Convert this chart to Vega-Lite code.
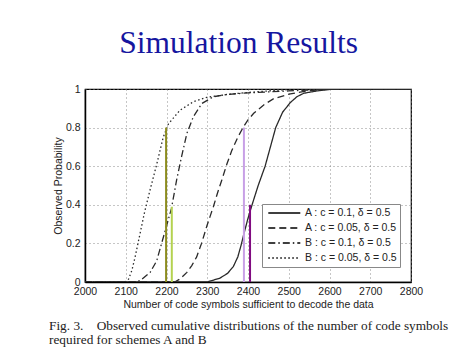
{
  "$schema": "https://vega.github.io/schema/vega-lite/v6.json",
  "background": "white",
  "padding": {"left": 48, "top": 27, "right": 5, "bottom": 5},
  "title": {
    "text": "Simulation Results",
    "font": "Liberation Serif",
    "fontSize": 31.5,
    "fontWeight": "normal",
    "color": "#1616a0",
    "anchor": "middle",
    "dx": -10,
    "offset": 24
  },
  "config": {
    "view": {"stroke": "black", "strokeWidth": 1.2},
    "axis": {
      "domainColor": "black",
      "domainWidth": 1.5,
      "gridColor": "#808080",
      "gridDash": [1, 3],
      "gridWidth": 0.9,
      "ticks": false,
      "labelOverlap": false,
      "labelFlush": false,
      "labelFont": "Liberation Sans",
      "labelFontSize": 11,
      "labelColor": "#222222",
      "titleFont": "Liberation Sans",
      "titleFontSize": 10.5,
      "titleFontWeight": "normal",
      "titleColor": "#222222"
    }
  },
  "vconcat": [
    {
      "width": 326,
      "height": 193,
      "title": {
        "text": ["Fig. 3.\u00a0\u00a0\u00a0 Observed cumulative distributions of the number of code symbols", "required for schemes A and B"],
        "orient": "bottom",
        "anchor": "start",
        "frame": "group",
        "dx": -36,
        "offset": 9,
        "font": "Liberation Serif",
        "fontSize": 13.3,
        "fontWeight": "normal",
        "color": "#222222",
        "lineHeight": 14
      },
      "layer": [
        {
          "data": {
            "values": [
              {"series": "A : c = 0.1, δ = 0.5", "x": 2000, "y": 0},
              {"series": "A : c = 0.1, δ = 0.5", "x": 2300, "y": 0},
              {"series": "A : c = 0.1, δ = 0.5", "x": 2331, "y": 0.02},
              {"series": "A : c = 0.1, δ = 0.5", "x": 2350, "y": 0.045},
              {"series": "A : c = 0.1, δ = 0.5", "x": 2364, "y": 0.08},
              {"series": "A : c = 0.1, δ = 0.5", "x": 2375, "y": 0.13},
              {"series": "A : c = 0.1, δ = 0.5", "x": 2383, "y": 0.19},
              {"series": "A : c = 0.1, δ = 0.5", "x": 2390, "y": 0.25},
              {"series": "A : c = 0.1, δ = 0.5", "x": 2400, "y": 0.33},
              {"series": "A : c = 0.1, δ = 0.5", "x": 2410, "y": 0.4},
              {"series": "A : c = 0.1, δ = 0.5", "x": 2425, "y": 0.5},
              {"series": "A : c = 0.1, δ = 0.5", "x": 2442, "y": 0.6},
              {"series": "A : c = 0.1, δ = 0.5", "x": 2455, "y": 0.7},
              {"series": "A : c = 0.1, δ = 0.5", "x": 2468, "y": 0.8},
              {"series": "A : c = 0.1, δ = 0.5", "x": 2485, "y": 0.88},
              {"series": "A : c = 0.1, δ = 0.5", "x": 2504, "y": 0.93},
              {"series": "A : c = 0.1, δ = 0.5", "x": 2520, "y": 0.96},
              {"series": "A : c = 0.1, δ = 0.5", "x": 2537, "y": 0.978},
              {"series": "A : c = 0.1, δ = 0.5", "x": 2569, "y": 0.99},
              {"series": "A : c = 0.1, δ = 0.5", "x": 2610, "y": 1},
              {"series": "A : c = 0.1, δ = 0.5", "x": 2800, "y": 1},
              {"series": "A : c = 0.05, δ = 0.5", "x": 2000, "y": 0},
              {"series": "A : c = 0.05, δ = 0.5", "x": 2220, "y": 0},
              {"series": "A : c = 0.05, δ = 0.5", "x": 2233, "y": 0.015},
              {"series": "A : c = 0.05, δ = 0.5", "x": 2250, "y": 0.05},
              {"series": "A : c = 0.05, δ = 0.5", "x": 2262, "y": 0.085},
              {"series": "A : c = 0.05, δ = 0.5", "x": 2274, "y": 0.13},
              {"series": "A : c = 0.05, δ = 0.5", "x": 2286, "y": 0.2},
              {"series": "A : c = 0.05, δ = 0.5", "x": 2299, "y": 0.29},
              {"series": "A : c = 0.05, δ = 0.5", "x": 2307, "y": 0.34},
              {"series": "A : c = 0.05, δ = 0.5", "x": 2315, "y": 0.39},
              {"series": "A : c = 0.05, δ = 0.5", "x": 2325, "y": 0.46},
              {"series": "A : c = 0.05, δ = 0.5", "x": 2336, "y": 0.53},
              {"series": "A : c = 0.05, δ = 0.5", "x": 2348, "y": 0.61},
              {"series": "A : c = 0.05, δ = 0.5", "x": 2360, "y": 0.68},
              {"series": "A : c = 0.05, δ = 0.5", "x": 2375, "y": 0.75},
              {"series": "A : c = 0.05, δ = 0.5", "x": 2389, "y": 0.805},
              {"series": "A : c = 0.05, δ = 0.5", "x": 2400, "y": 0.84},
              {"series": "A : c = 0.05, δ = 0.5", "x": 2414, "y": 0.874},
              {"series": "A : c = 0.05, δ = 0.5", "x": 2440, "y": 0.92},
              {"series": "A : c = 0.05, δ = 0.5", "x": 2463, "y": 0.95},
              {"series": "A : c = 0.05, δ = 0.5", "x": 2504, "y": 0.975},
              {"series": "A : c = 0.05, δ = 0.5", "x": 2544, "y": 0.99},
              {"series": "A : c = 0.05, δ = 0.5", "x": 2600, "y": 1},
              {"series": "A : c = 0.05, δ = 0.5", "x": 2800, "y": 1},
              {"series": "B : c = 0.1, δ = 0.5", "x": 2000, "y": 0},
              {"series": "B : c = 0.1, δ = 0.5", "x": 2128, "y": 0},
              {"series": "B : c = 0.1, δ = 0.5", "x": 2140, "y": 0.015},
              {"series": "B : c = 0.1, δ = 0.5", "x": 2160, "y": 0.05},
              {"series": "B : c = 0.1, δ = 0.5", "x": 2176, "y": 0.11},
              {"series": "B : c = 0.1, δ = 0.5", "x": 2188, "y": 0.2},
              {"series": "B : c = 0.1, δ = 0.5", "x": 2200, "y": 0.29},
              {"series": "B : c = 0.1, δ = 0.5", "x": 2212, "y": 0.38},
              {"series": "B : c = 0.1, δ = 0.5", "x": 2225, "y": 0.53},
              {"series": "B : c = 0.1, δ = 0.5", "x": 2237, "y": 0.65},
              {"series": "B : c = 0.1, δ = 0.5", "x": 2250, "y": 0.77},
              {"series": "B : c = 0.1, δ = 0.5", "x": 2266, "y": 0.857},
              {"series": "B : c = 0.1, δ = 0.5", "x": 2287, "y": 0.925},
              {"series": "B : c = 0.1, δ = 0.5", "x": 2315, "y": 0.96},
              {"series": "B : c = 0.1, δ = 0.5", "x": 2350, "y": 0.972},
              {"series": "B : c = 0.1, δ = 0.5", "x": 2400, "y": 0.98},
              {"series": "B : c = 0.1, δ = 0.5", "x": 2450, "y": 0.985},
              {"series": "B : c = 0.1, δ = 0.5", "x": 2500, "y": 0.99},
              {"series": "B : c = 0.1, δ = 0.5", "x": 2560, "y": 0.996},
              {"series": "B : c = 0.1, δ = 0.5", "x": 2620, "y": 1},
              {"series": "B : c = 0.1, δ = 0.5", "x": 2800, "y": 1},
              {"series": "B : c = 0.05, δ = 0.5", "x": 2000, "y": 0},
              {"series": "B : c = 0.05, δ = 0.5", "x": 2098, "y": 0},
              {"series": "B : c = 0.05, δ = 0.5", "x": 2106, "y": 0.01},
              {"series": "B : c = 0.05, δ = 0.5", "x": 2115, "y": 0.06},
              {"series": "B : c = 0.05, δ = 0.5", "x": 2123, "y": 0.13},
              {"series": "B : c = 0.05, δ = 0.5", "x": 2135, "y": 0.25},
              {"series": "B : c = 0.05, δ = 0.5", "x": 2146, "y": 0.36},
              {"series": "B : c = 0.05, δ = 0.5", "x": 2160, "y": 0.48},
              {"series": "B : c = 0.05, δ = 0.5", "x": 2176, "y": 0.61},
              {"series": "B : c = 0.05, δ = 0.5", "x": 2192, "y": 0.75},
              {"series": "B : c = 0.05, δ = 0.5", "x": 2205, "y": 0.82},
              {"series": "B : c = 0.05, δ = 0.5", "x": 2233, "y": 0.89},
              {"series": "B : c = 0.05, δ = 0.5", "x": 2266, "y": 0.934},
              {"series": "B : c = 0.05, δ = 0.5", "x": 2299, "y": 0.957},
              {"series": "B : c = 0.05, δ = 0.5", "x": 2350, "y": 0.972},
              {"series": "B : c = 0.05, δ = 0.5", "x": 2400, "y": 0.982},
              {"series": "B : c = 0.05, δ = 0.5", "x": 2450, "y": 0.99},
              {"series": "B : c = 0.05, δ = 0.5", "x": 2520, "y": 1},
              {"series": "B : c = 0.05, δ = 0.5", "x": 2800, "y": 1}
            ]
          },
          "mark": {"type": "line", "color": "#2a2a2a", "strokeWidth": 1.3, "clip": true},
          "encoding": {
            "x": {
              "field": "x",
              "type": "quantitative",
              "scale": {"domain": [2000, 2800], "nice": false, "zero": false},
              "axis": {
                "values": [2000, 2100, 2200, 2300, 2400, 2500, 2600, 2700, 2800],
                "tickCount": 20,
                "labelOverlap": false,
                "format": "d",
                "labelFontSize": 10.5,
                "labelPadding": 4,
                "title": "Number of code symbols sufficient to decode the data",
                "titlePadding": 3,
                "grid": true
              }
            },
            "y": {
              "field": "y",
              "type": "quantitative",
              "scale": {"domain": [0, 1], "nice": false},
              "axis": {
                "values": [0, 0.2, 0.4, 0.6, 0.8, 1],
                "tickCount": 20,
                "labelOverlap": false,
                "format": "~g",
                "labelFontSize": 10.5,
                "labelPadding": 5,
                "title": "Observed Probability",
                "titlePadding": 2,
                "grid": true
              }
            },
            "strokeDash": {
              "field": "series",
              "type": "nominal",
              "scale": {
                "domain": ["A : c = 0.1, δ = 0.5", "A : c = 0.05, δ = 0.5", "B : c = 0.1, δ = 0.5", "B : c = 0.05, δ = 0.5"],
                "range": [[1, 0], [7, 4], [7, 3, 1.5, 3], [1.5, 2.5]]
              },
              "legend": {
                "title": null,
                "orient": "none",
                "legendX": 177,
                "legendY": 115,
                "fillColor": "white",
                "strokeColor": "#888888",
                "padding": 3,
                "symbolType": "M-0.54,0H5.86",
                "symbolSize": 100,
                "symbolStrokeWidth": 1.4,
                "symbolStrokeColor": "black",
                "symbolFillColor": "transparent",
                "symbolOffset": 0,
                "labelOffset": 28,
                "labelAlign": "left",
                "labelFont": "Liberation Sans",
                "labelFontSize": 10.5,
                "labelColor": "#222222",
                "rowPadding": 3
              }
            }
          }
        },
        {
          "data": {
            "values": [
              {"x": 2199, "top": 0.8, "c": "olive"},
              {"x": 2213, "top": 0.39, "c": "yellowgreen"},
              {"x": 2390, "top": 0.8, "c": "lavender"},
              {"x": 2405, "top": 0.4, "c": "purple"}
            ]
          },
          "mark": {"type": "rule", "strokeWidth": 2},
          "encoding": {
            "x": {"field": "x", "type": "quantitative"},
            "y": {"field": "top", "type": "quantitative"},
            "y2": {"datum": 0},
            "color": {
              "field": "c",
              "type": "nominal",
              "scale": {"domain": ["olive", "yellowgreen", "lavender", "purple"], "range": ["#8c8c1e", "#b4d250", "#c8a0e6", "#800a80"]},
              "legend": null
            }
          }
        }
      ]
    }
  ]
}
